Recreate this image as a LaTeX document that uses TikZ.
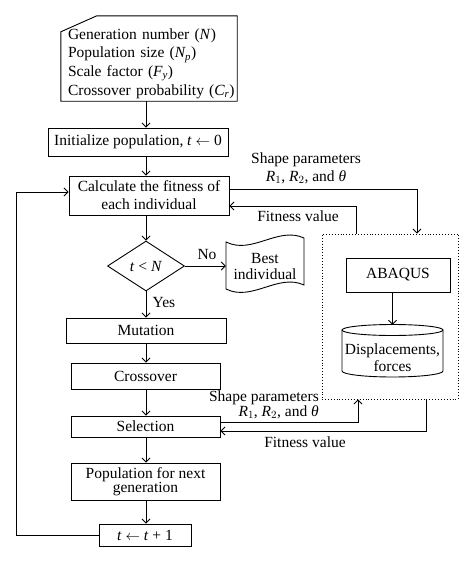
\documentclass[tikz,border=0pt]{standalone}
\usepackage{fontspec}
\setmainfont{Liberation Serif}
\usetikzlibrary{arrows.meta,shapes.geometric}
\begin{document}
\begin{tikzpicture}[x=1pt,y=-1pt,
  font=\fontsize{15.5}{18}\selectfont,
  every node/.style={inner sep=0pt},
  box/.style={draw,line width=0.9pt,align=center},
  lbl/.style={align=center},
  arr/.style={line width=0.9pt,-{Straight Barb[length=4pt,width=8pt]}},
  ln/.style={line width=0.9pt}]
\useasboundingbox (0,0) rectangle (474,562);
% input
\node[minimum width=176pt,minimum height=85pt] (input) at (149,58.5) {};
\node[text width=180pt,align=left,font=\fontsize{15.5}{18.7}\selectfont] (inputtext) at (158,63.5)
 {Generation number (\textit{N})\\Population size ($\mathit{N}_{\mathit{p}}$)\\Scale factor ($\mathit{F}_{\mathit{y}}$)\\Crossover probability ($\mathit{C}_{\mathit{r}}$)};
\draw[ln] ([yshift=-16pt]input.north west) -- ([xshift=36pt]input.north west) -- (input.north east) -- (input.south east) -- (input.south west) -- cycle;
\node[box,minimum width=180pt,minimum height=28pt] (init) at (138,142) {Initialize population, \textit{t} $\leftarrow$ 0};
\node[box,minimum width=160pt,minimum height=39pt] (calc) at (149,195.5) {Calculate the fitness of\\each individual};
\node[draw,line width=0.9pt,diamond,aspect=1.54,minimum width=77pt,minimum height=50pt] (dec) at (146,266) {\textit{t} < \textit{N}};
\node[minimum width=78pt,minimum height=50pt,align=center,font=\fontsize{15.5}{16}\selectfont] (best) at (265,266) {Best\\individual};
\draw[ln] (226,242) .. controls (252,255) and (278,226) .. (304,238) -- (304,285)
  .. controls (278,273) and (252,302) .. (226,289) -- cycle;
\node[box,minimum width=160pt,minimum height=25pt] (mut) at (146,330.5) {Mutation};
\node[box,minimum width=149pt,minimum height=26pt] (cross) at (145.5,376) {Crossover};
\node[box,minimum width=149pt,minimum height=21pt] (sel) at (145.5,426.5) {Selection};
\node[box,minimum width=149pt,minimum height=37pt,font=\fontsize{15.5}{14}\selectfont] (pop) at (145.5,481.5) {Population for next\\generation};
\node[box,minimum width=92pt,minimum height=22pt] (inc) at (145,535) {\textit{t} $\leftarrow$ \textit{t} + 1};
% FEM block
\node[draw,dotted,line width=0.9pt,minimum width=136pt,minimum height=165pt] (fem) at (390,316.5) {};
\node[box,minimum width=104pt,minimum height=34pt] (abq) at (398,275) {ABAQUS};
\node[minimum width=101pt,minimum height=52pt] (db) at (392.5,351) {};
\draw[ln] (392.5,330) ellipse [x radius=50.5pt,y radius=5.5pt];
\draw[ln] (342,330) -- (342,371) arc[start angle=180,end angle=360,x radius=50.5pt,y radius=6pt] -- (443,330);
\node[align=center,font=\fontsize{15.5}{17}\selectfont] (dbtext) at (392.5,358) {Displacements,\\forces};
% main flow
\draw[arr] (input.south -| dec) -- (init.north -| dec);
\draw[arr] (init.south -| dec) -- (calc.north -| dec);
\draw[arr] (calc.south -| dec) -- (dec.north);
\draw[arr] (dec.south) -- (mut.north -| dec);
\draw[arr] (mut.south -| dec) -- (cross.north -| dec);
\draw[arr] (cross.south -| dec) -- (sel.north -| dec);
\draw[arr] (sel.south -| dec) -- (pop.north -| dec);
\draw[arr] (pop.south -| dec) -- (inc.north -| dec);
\draw[arr] (dec.east) -- (best.west);
\draw[arr] (abq.south -| db) -- (db.north);
% loop
\coordinate (lp) at (16,535);
\draw[arr] (inc.west) -- (lp) |- ([yshift=3.5pt]calc.west);
% FEM connections
\draw[arr] ([yshift=6.5pt]calc.east) -| ([xshift=27pt]fem.north);
\draw[arr] ([xshift=-34pt]fem.north) |- ([yshift=-10.5pt]calc.east);
\draw[arr] ([yshift=4.5pt]sel.east) -| ([xshift=-32pt]fem.south);
\draw[arr] ([xshift=36pt]fem.south) |- ([yshift=-4.5pt]sel.east);
% labels
\node (no) at (207,254) {No};
\node (yes) at (164,302) {Yes};
\node[lbl,font=\fontsize{15.5}{18}\selectfont] (sp1) at (306,168) {Shape parameters\\$\mathit{R}_1$, $\mathit{R}_2$, and \textit{θ}};
\node (fv1) at (298,216) {Fitness value};
\node[align=right,anchor=east,font=\fontsize{15.5}{15}\selectfont] (sp2) at (319,404.5) {Shape parameters\\$\mathit{R}_1$, $\mathit{R}_2$, and \textit{θ}};
\node (fv2) at (305,442) {Fitness value};
\end{tikzpicture}
\end{document}
